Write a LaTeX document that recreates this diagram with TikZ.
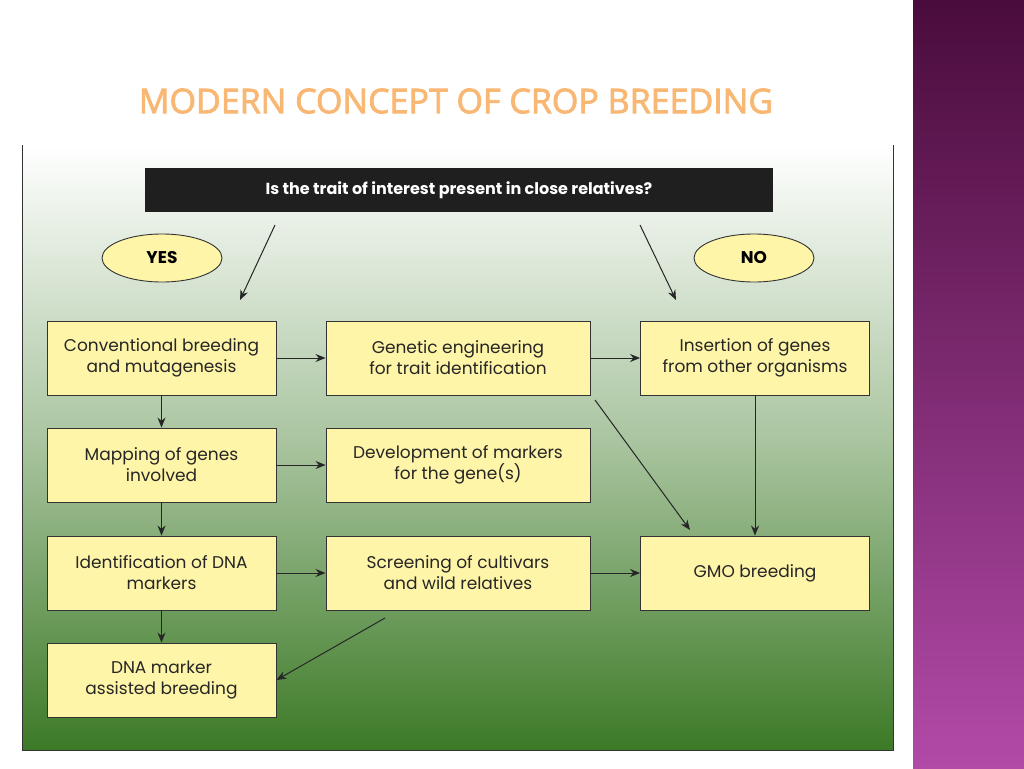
\documentclass[tikz,border=0pt]{standalone}
\usepackage{fontspec}
\setmainfont{Poppins}
\newfontfamily\titlefont{Open Sans}
\usetikzlibrary{shapes.geometric,arrows.meta}
\definecolor{boxy}{HTML}{FFF5A8}
\definecolor{grn}{HTML}{3C7A26}
\definecolor{ptop}{HTML}{4A0C3C}
\definecolor{pbot}{HTML}{B24AA8}
\definecolor{ttl}{HTML}{F9B774}
\begin{document}
\begin{tikzpicture}[x=1pt,y=-1pt,
  stepbox/.style={draw=black!80,line width=0.9pt,fill=boxy,minimum width=229pt,minimum height=74pt,align=center,font=\fontsize{17}{21}\selectfont,text=black!85,inner sep=0pt},
  widebox/.style={stepbox,minimum width=264pt},
  ans/.style={ellipse,draw=black!80,line width=0.9pt,fill=boxy,minimum width=120pt,minimum height=48pt,font=\bfseries\fontsize{17}{20}\selectfont,inner sep=0pt},
  arr/.style={-{Stealth[length=10pt,width=8pt]},line width=1pt,black!85}]
\useasboundingbox (0,0) rectangle (1024,768);
\fill[white] (0,0) rectangle (1024,768);
\shade[top color=ptop,bottom color=pbot] (913,0) rectangle (1024,768);
\node[font=\titlefont\fontsize{34}{36}\selectfont] (title) at (456,101)
 {\special{pdf:code q 0.4 0.13 0.12 RG 0.8 w 2 Tr}\color{ttl}MODERN CONCEPT OF CROP BREEDING\special{pdf:code Q}};
\shade[top color=white,bottom color=grn,middle color=grn!45!white] (22,145) rectangle (893,750);
\draw[black!80,line width=1pt] (22,145) -- (22,750) -- (893,750) -- (893,145);
\node[fill=black!88,text=white,minimum width=628pt,minimum height=44pt,font=\bfseries\fontsize{16}{20}\selectfont,inner sep=0pt] (q) at (459,190) {Is the trait of interest present in close relatives?};
\node[ans] (yes) at (162,258) {YES};
\node[ans] (no) at (754,258) {NO};
\node[stepbox] (a1) at (161.5,358) {Conventional breeding\\and mutagenesis};
\node[widebox] (b1) at (458,358) {Genetic engineering\\for trait identification};
\node[stepbox] (c1) at (755,358) {Insertion of genes\\from other organisms};
\node[stepbox] (a2) at (161.5,465) {Mapping of genes\\involved};
\node[widebox] (b2) at (458,465) {Development of markers\\for the gene(s)};
\node[stepbox] (a3) at (161.5,573) {Identification of DNA\\markers};
\node[widebox] (b3) at (458,573) {Screening of cultivars\\and wild relatives};
\node[stepbox] (c3) at (755,573) {GMO breeding};
\node[stepbox] (a4) at (161.5,680) {DNA marker\\assisted breeding};
\coordinate (y0) at (275,225); \coordinate (y1) at (240,300);
\coordinate (n0) at (640,225); \coordinate (n1) at (676,300);
\draw[arr] (y0) -- (y1);
\draw[arr] (n0) -- (n1);
\draw[arr] (a1) -- (b1);
\draw[arr] (b1) -- (c1);
\draw[arr] (a2) -- (b2);
\draw[arr] (a3) -- (b3);
\draw[arr] (b3) -- (c3);
\draw[arr] (a1) -- (a2);
\draw[arr] (a2) -- (a3);
\draw[arr] (a3) -- (a4);
\draw[arr] (c1) -- (c3);
\coordinate (g0) at (595,400); \coordinate (g1) at (690,530);
\draw[arr] (g0) -- (g1);
\coordinate (s0) at (385,618);
\draw[arr] (s0) -- (a4.east);
\end{tikzpicture}
\end{document}
